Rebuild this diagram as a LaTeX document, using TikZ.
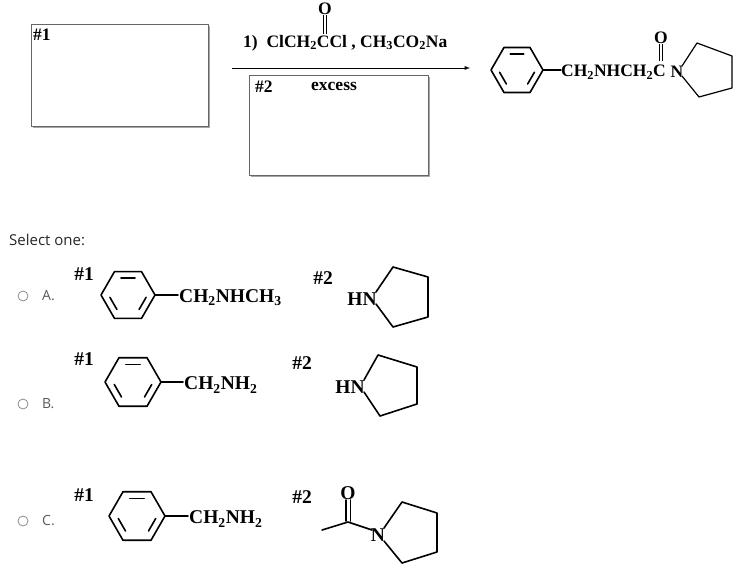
\documentclass[tikz,border=0pt]{standalone}
\usepackage{fontspec}
\setmainfont{Liberation Serif}
\newfontfamily\uisans{Open Sans}
\usetikzlibrary{calc}
\tikzset{
 bond/.style={line width=1.6pt,line cap=round,line join=round},
 chem/.style={inner sep=0pt,font=\bfseries\fontsize{19.5}{19.5}\selectfont},
 small/.style={inner sep=0pt,font=\bfseries\fontsize{17.5}{17.5}\selectfont},
 opt/.style={inner sep=0pt,anchor=west,text=black!65,font=\uisans\fontsize{14}{14}\selectfont},
 radio/.style={circle,draw=black!45,line width=0.8pt,minimum size=10pt,inner sep=0pt},
 ansbox/.style={draw=black!60,fill=white,line width=0.8pt},
}
\newcommand\benzring[3]{%
 \begin{scope}[shift={(#1,#2)}]
 \draw[bond] (0:#3)--(60:#3)--(120:#3)--(180:#3)--(240:#3)--(300:#3)--cycle;
 \foreach \a/\b in {240/300,120/180,0/60}{
  \draw[bond] ($(\a:0.72*#3)!0.14!(\b:0.72*#3)$)--($(\a:0.72*#3)!0.86!(\b:0.72*#3)$);}
 \end{scope}}
\begin{document}
\begin{tikzpicture}[x=1pt,y=-1pt]
\useasboundingbox (0,0) rectangle (752,576);
% boxes
\fill[black!35] (33,26) rectangle (210,128);
\draw[ansbox] (31,24) rectangle (208,126);
\node[small,anchor=north west] (h1) at (33,29) {\#1};
\fill[black!35] (251,77) rectangle (430,177);
\draw[ansbox] (249,75) rectangle (428,175);
\node[small,anchor=north west] (h2) at (255,81) {\#2};
\node[small,anchor=north west] (ex) at (311,82) {excess};
% reagent
\node[small,anchor=west] (r1) at (243,43) {1)\ \ ClCH\textsubscript{2}CCl , CH\textsubscript{3}CO\textsubscript{2}Na};
\node[small] (o1) at (325,9) {O};
\draw[line width=0.9pt] (323.5,15)--(323.5,34) (326.5,15)--(326.5,34);
\coordinate (a1) at (232,68); \coordinate (a2) at (470,68);
\draw[line width=0.9pt,-latex] (a1)--(a2);
% product
\benzring{517}{70}{26}
\draw[bond,line width=1.2pt] (543,70)--(561,70);
\node[small,anchor=west] (pt) at (561,72) {CH\textsubscript{2}NHCH\textsubscript{2}C};
\node[small] (o2) at (661,38) {O};
\draw[line width=0.9pt] (659.5,44)--(659.5,61) (662.5,44)--(662.5,61);
\node[small] (n1) at (677,72) {N};
\draw[bond,line width=1.2pt] (682,66)--(697,43)--(732,56)--(732,88)--(699,97)--(682,76);
% question
\node[opt,text=black!85,font=\uisans\fontsize{15}{15}\selectfont] (sel) at (9,240) {Select one:};
% A
\node[radio] (ra) at (23,296) {};
\node[opt] (la) at (42,296) {A.};
\node[chem] (a1h) at (84,274) {\#1};
\benzring{128}{295}{27}
\draw[bond] (155,295)--(178,295);
\node[chem,anchor=west] (at) at (179,298) {CH\textsubscript{2}NHCH\textsubscript{3}};
\node[chem] (a2h) at (323,278) {\#2};
\node[chem] (ahn) at (362,299) {HN};
\draw[bond] (376,292)--(393,267)--(428,277)--(428,317)--(393,327)--(376,304);
% B
\node[radio] (rb) at (23,404) {};
\node[opt] (lb) at (42,404) {B.};
\node[chem] (b1h) at (84,359) {\#1};
\benzring{133}{382}{28}
\draw[bond] (161,382)--(183,382);
\node[chem,anchor=west] (bt) at (184,385) {CH\textsubscript{2}NH\textsubscript{2}};
\node[chem] (b2h) at (302,363) {\#2};
\node[chem] (bhn) at (350,387) {HN};
\draw[bond] (364,380)--(378,355)--(417,367)--(417,404)--(380,416)--(364,392);
% C
\node[radio] (rc) at (23,521) {};
\node[opt] (lc) at (42,521) {C.};
\node[chem] (c1h) at (84,495) {\#1};
\benzring{137}{516}{28}
\draw[bond] (165,516)--(188,516);
\node[chem,anchor=west] (ct) at (189,519) {CH\textsubscript{2}NH\textsubscript{2}};
\node[chem] (c2h) at (302,497) {\#2};
\node[chem] (co) at (348,493) {O};
\draw[bond] (346,500)--(346,521) (350.5,500)--(350.5,521);
\draw[bond] (322,530)--(348,522)--(372,530);
\node[chem] (cn) at (378,535) {N};
\draw[bond] (384,528)--(402,502)--(437,513)--(437,552)--(402,563)--(384,541);
\end{tikzpicture}
\end{document}
